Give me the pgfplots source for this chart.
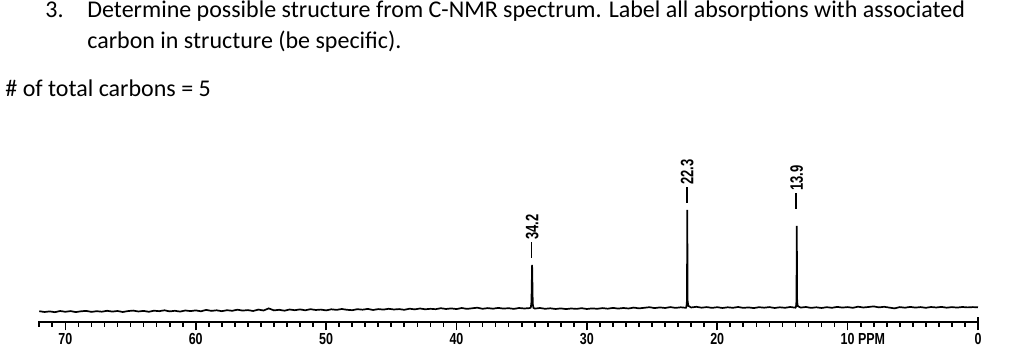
\documentclass[border=0pt]{standalone}
\usepackage{pgfplots}
\pgfplotsset{compat=1.18}
\usepackage{fontspec}
\setmainfont{Carlito}
\newfontfamily\plotfont{Liberation Sans}
\newcommand{\nrw}[1]{\scalebox{0.78}[1]{#1}}
\newcommand{\pk}[1]{\scalebox{0.72}[1]{\rule[0.62ex]{11pt}{0.8pt}\,\bfseries #1}}
\begin{document}
\begin{tikzpicture}
\useasboundingbox (0,0) rectangle (512pt,178.5pt);
\node[anchor=base west, inner sep=0pt, font=\fontsize{12pt}{14pt}\selectfont] at (22.5pt,169.5pt) {3.};
\node[anchor=base west, inner sep=0pt, font=\fontsize{12pt}{14pt}\selectfont] at (43.5pt,169.5pt) {Determine possible structure from C-NMR spectrum. Label all absorptions with associated};
\node[anchor=base west, inner sep=0pt, font=\fontsize{12pt}{14pt}\selectfont] at (43.5pt,154pt) {carbon in structure (be specific).};
\node[anchor=base west, inner sep=0pt, font=\fontsize{12pt}{14pt}\selectfont] at (2.5pt,130pt) {\# of total carbons = 5};
\begin{axis}[
  at={(19pt,17.5pt)}, anchor=south west,
  scale only axis, width=470pt, height=100pt,
  xmin=0, xmax=72.1, ymin=-12, ymax=188,
  x dir=reverse,
  axis x line=bottom, axis y line=none,
  x axis line style={-, line width=0.8pt},
  xtick={0,10,...,70},
  xticklabels={\nrw{0},\nrw{10}\rlap{\nrw{\ PPM}},\nrw{20},\nrw{30},\nrw{40},\nrw{50},\nrw{60},\nrw{70}},
  minor xtick={0,1,...,72},
  tick align=outside,
  major tick length=4.2pt, minor tick length=2.4pt,
  tick style={black, line width=0.85pt},
  xticklabel style={font=\plotfont\bfseries\fontsize{8pt}{9pt}\selectfont, inner sep=1pt, yshift=-0.5pt},
  clip=false,
]
\addplot[black, line width=0.85pt, mark=none] table {
72.0 -1.2
71.6 -2.0
71.2 -1.4
70.8 -2.2
70.4 -1.0
70.0 -1.8
69.6 -1.1
69.2 -2.1
68.8 -1.3
68.4 -0.9
68.0 -1.9
67.6 -1.2
67.2 -1.7
66.8 -0.8
66.4 -1.6
66.0 -1.0
65.6 -2.0
65.2 -1.1
64.8 -0.6
64.4 -1.5
64.0 -0.9
63.6 -1.8
63.2 -0.7
62.8 -1.2
62.4 -0.3
62.0 -1.4
61.6 -0.8
61.2 -1.6
60.8 -0.5
60.4 -1.1
60.0 -0.4
59.6 -1.3
59.2 0.1
58.8 -0.9
58.4 -0.3
58.0 -1.2
57.6 -0.2
57.2 -0.8
56.8 0.3
56.4 -0.6
56.0 -0.1
55.6 -1.0
55.2 0.4
54.8 -0.5
54.4 1.6
54.0 -0.4
53.6 0.2
53.2 -0.7
52.8 0.5
52.4 -0.2
52.0 0.6
51.6 -0.3
51.2 0.8
50.8 0.0
50.4 0.4
50.0 -0.4
49.6 0.7
49.2 0.1
48.8 1.0
48.4 0.2
48.0 -0.2
47.6 0.8
47.2 0.3
46.8 1.1
46.4 0.0
46.0 0.9
45.6 0.4
45.2 1.2
44.8 0.5
44.4 0.9
44.0 0.2
43.6 1.3
43.2 0.6
42.8 1.5
42.4 0.7
42.0 1.2
41.6 0.8
41.2 1.8
40.8 1.0
40.4 1.6
40.0 0.9
39.6 2.0
39.2 1.1
38.8 1.7
38.4 2.3
38.0 1.2
37.6 1.9
37.2 1.3
36.8 2.1
36.4 1.4
36.0 1.8
35.6 1.1
35.2 2.0
34.8 1.5
34.4 1.9
34.3 2.4
34.25 8
34.2 45
34.15 6
34.1 2.2
34.0 1.4
33.6 2.0
33.2 1.2
32.8 1.7
32.4 1.0
32.0 1.6
31.6 0.9
31.2 1.5
30.8 1.1
30.4 1.8
30.0 1.0
29.6 1.6
29.2 1.2
28.8 1.9
28.4 1.3
28.0 2.1
27.6 1.4
27.2 2.0
26.8 1.5
26.4 2.4
26.0 1.6
25.6 2.2
25.2 2.8
24.8 1.9
24.4 2.6
24.0 2.0
23.6 2.9
23.2 2.1
22.8 2.7
22.4 2.2
22.36 3.5
22.32 10
22.3 100
22.27 9
22.22 4.2
22.0 2.5
21.6 3.2
21.2 2.3
20.8 2.9
20.4 2.1
20.0 2.8
19.6 2.0
19.2 2.7
18.8 2.2
18.4 3.0
18.0 2.1
17.6 2.6
17.2 1.9
16.8 2.8
16.4 2.3
16.0 2.9
15.6 2.0
15.2 2.7
14.8 2.2
14.4 3.0
14.0 2.3
13.96 3.2
13.92 9
13.9 84
13.87 8
13.82 3.8
13.6 2.4
13.2 3.0
12.8 2.1
12.4 2.7
12.0 2.0
11.6 2.8
11.2 2.2
10.8 3.1
10.4 2.4
10.0 2.9
9.6 2.2
9.2 3.3
8.8 2.5
8.4 3.0
8.0 3.6
7.6 2.6
7.2 3.2
6.8 2.4
6.4 1.6
6.0 2.9
5.6 2.3
5.2 3.1
4.8 2.4
4.4 2.9
4.0 2.2
3.6 3.0
3.2 2.5
2.8 3.1
2.4 2.3
2.0 2.9
1.6 2.4
1.2 3.0
0.8 2.6
0.4 2.9
0.0 2.7
};
\draw[black, line width=0.85pt] (axis cs:0,-12) -- ++(0pt,2.6pt);
\node[rotate=90, anchor=west, inner sep=0pt, font=\plotfont\fontsize{9pt}{10pt}\selectfont] at (axis cs:34.2,52) {\pk{34.2}};
\node[rotate=90, anchor=west, inner sep=0pt, font=\plotfont\fontsize{9pt}{10pt}\selectfont] at (axis cs:22.3,107) {\pk{22.3}};
\node[rotate=90, anchor=west, inner sep=0pt, font=\plotfont\fontsize{9pt}{10pt}\selectfont] at (axis cs:13.9,101) {\pk{13.9}};
\end{axis}
\end{tikzpicture}
\end{document}
